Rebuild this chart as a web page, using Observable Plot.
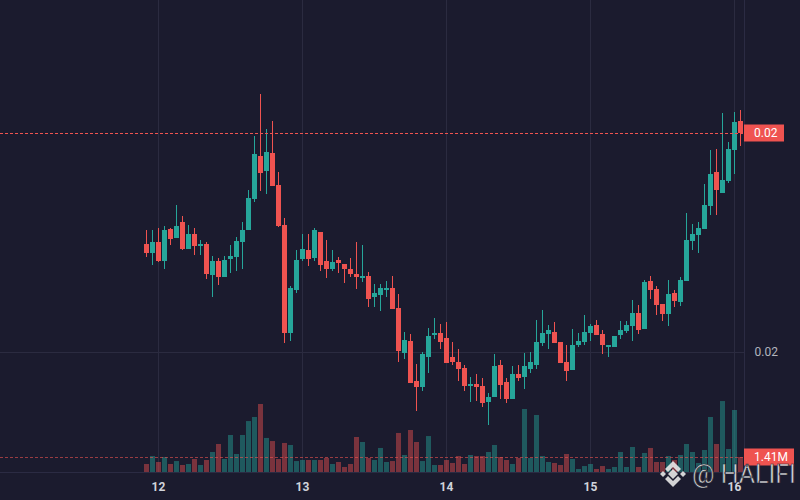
<!DOCTYPE html>
<html><head><meta charset="utf-8">
<script src="https://cdn.jsdelivr.net/npm/d3@7"></script>
<script src="https://cdn.jsdelivr.net/npm/@observablehq/plot@0.6"></script>
<style>
html,body{margin:0;padding:0;background:#1b1b2e;}
#chart{position:relative;width:800px;height:500px;background:#1b1b2e;overflow:hidden;font-family:Roboto,sans-serif;}
#chart svg{position:absolute;left:0;top:0;}
</style></head><body><div id="chart"></div>
<script>
// ---- data (hourly candles, first candle 11th 22:00) ----
const firstCandle = "2024-01-11T22:00Z";
const dayTicks = ["2024-01-12","2024-01-13","2024-01-14","2024-01-15","2024-01-16"];
const open = [0.02108,0.02099,0.02110,0.02091,0.02123,0.02114,0.02130,0.02103,0.02118,0.02106,
0.02108,0.02077,0.02091,0.02075,0.02093,0.02095,0.02110,0.02122,0.02153,0.02196,
0.02181,0.02199,0.02167,0.02127,0.02019,0.02062,0.02093,0.02102,0.02094,0.02120,
0.02091,0.02083,0.02092,0.02088,0.02083,0.02078,0.02074,0.02076,0.02055,0.02057,
0.02062,0.02064,0.02044,0.01999,0.02011,0.01971,0.01965,0.01995,0.02017,0.02019,
0.02014,0.01995,0.01990,0.01984,0.01966,0.01968,0.01966,0.01950,0.01955,0.01987,
0.01970,0.01953,0.01978,0.01975,0.01983,0.01987,0.02009,0.02018,0.02020,0.02010,
0.01990,0.01982,0.02007,0.02010,0.02019,0.02027,0.02018,0.02005,0.02005,0.02017,
0.02021,0.02026,0.02039,0.02023,0.02071,0.02063,0.02048,0.02038,0.02059,0.02050,
0.02071,0.02111,0.02117,0.02123,0.02146,0.02180,0.02159,0.02171,0.02202,0.02231];
const high = [0.02122,0.02122,0.02124,0.02126,0.02124,0.02147,0.02136,0.02127,0.02124,0.02112,
0.02110,0.02096,0.02094,0.02096,0.02107,0.02115,0.02130,0.02162,0.02216,0.02258,
0.02223,0.02231,0.02180,0.02134,0.02066,0.02102,0.02118,0.02118,0.02124,0.02120,
0.02112,0.02102,0.02095,0.02088,0.02094,0.02110,0.02107,0.02080,0.02068,0.02068,
0.02071,0.02076,0.02058,0.02020,0.02018,0.01988,0.02000,0.02024,0.02034,0.02028,
0.02030,0.02010,0.02003,0.01987,0.01975,0.01978,0.01974,0.01959,0.01998,0.01992,
0.01974,0.01986,0.01987,0.01999,0.02000,0.02032,0.02042,0.02027,0.02030,0.02010,
0.02007,0.02023,0.02019,0.02037,0.02028,0.02032,0.02022,0.02007,0.02016,0.02031,
0.02031,0.02052,0.02047,0.02072,0.02076,0.02066,0.02048,0.02072,0.02062,0.02075,
0.02139,0.02128,0.02130,0.02168,0.02202,0.02203,0.02239,0.02210,0.02240,0.02242];
const low = [0.02095,0.02087,0.02090,0.02083,0.02107,0.02114,0.02102,0.02103,0.02097,0.02097,
0.02073,0.02055,0.02067,0.02075,0.02079,0.02081,0.02083,0.02122,0.02150,0.02161,
0.02158,0.02166,0.02125,0.02009,0.02011,0.02059,0.02091,0.02086,0.02091,0.02081,
0.02074,0.02081,0.02079,0.02069,0.02075,0.02063,0.02070,0.02045,0.02045,0.02041,
0.02055,0.02043,0.01990,0.01993,0.01969,0.01941,0.01961,0.01979,0.02013,0.02003,
0.01989,0.01987,0.01971,0.01961,0.01950,0.01951,0.01945,0.01927,0.01955,0.01953,
0.01949,0.01953,0.01971,0.01963,0.01979,0.01983,0.02006,0.02003,0.02009,0.01989,
0.01971,0.01982,0.02005,0.02007,0.02011,0.02017,0.01998,0.01995,0.02005,0.02013,
0.02019,0.02011,0.02018,0.02023,0.02053,0.02037,0.02031,0.02026,0.02045,0.02046,
0.02071,0.02102,0.02099,0.02123,0.02137,0.02137,0.02159,0.02169,0.02178,0.02206];
const close = [0.02099,0.02110,0.02091,0.02122,0.02113,0.02126,0.02103,0.02118,0.02106,0.02108,
0.02078,0.02091,0.02075,0.02092,0.02096,0.02111,0.02122,0.02154,0.02198,0.02179,
0.02200,0.02166,0.02126,0.02019,0.02064,0.02092,0.02103,0.02093,0.02122,0.02087,
0.02083,0.02090,0.02089,0.02083,0.02078,0.02075,0.02076,0.02053,0.02059,0.02064,
0.02064,0.02043,0.02001,0.02012,0.01969,0.01965,0.01998,0.02016,0.02019,0.02010,
0.01989,0.01990,0.01983,0.01966,0.01968,0.01965,0.01949,0.01955,0.01986,0.01967,
0.01953,0.01978,0.01974,0.01986,0.01990,0.02010,0.02019,0.02022,0.02009,0.01989,
0.01981,0.02007,0.02011,0.02020,0.02026,0.02017,0.02007,0.02007,0.02016,0.02022,
0.02027,0.02039,0.02022,0.02070,0.02062,0.02047,0.02038,0.02058,0.02051,0.02072,
0.02112,0.02118,0.02124,0.02147,0.02178,0.02162,0.02172,0.02203,0.02230,0.02219];
// volume in millions
const volume = [0.75,1.50,0.94,1.41,0.75,1.03,0.66,0.75,1.22,0.66,
1.13,1.88,2.63,1.22,3.48,1.69,3.48,4.79,5.17,6.39,
3.20,2.91,1.22,2.73,2.54,1.03,1.13,1.13,1.13,1.13,
1.32,0.75,0.94,0.47,0.75,3.29,2.82,1.32,1.13,2.26,
0.94,1.03,3.67,1.60,3.95,2.82,1.03,3.38,0.66,0.66,
1.13,0.85,1.50,0.75,1.60,1.50,1.50,1.88,2.54,1.41,
1.13,0.75,1.32,5.92,1.32,5.36,1.50,0.94,0.85,0.66,
1.69,1.22,0.28,0.56,0.75,0.28,0.56,0.28,0.47,1.88,
0.47,2.35,0.47,1.79,2.26,0.94,0.94,1.50,1.13,1.60,
2.63,1.88,0.85,2.07,5.17,2.63,6.67,2.16,5.83,1.41];

// ---- build ----
const GREEN = "#26a69a", RED = "#ef5350";
const t0 = new Date(firstCandle);
const candles = open.map((o, i) => ({
  t: d3.utcHour.offset(t0, i), o, h: high[i], l: low[i], c: close[i], v: volume[i], up: close[i] >= o
}));
const ticks = dayTicks.map(d => new Date(d + "T00:00Z"));
const xDomain = [d3.utcMinute.offset(ticks[0], -1580), d3.utcMinute.offset(ticks[0], 5860)];
const last = candles[candles.length - 1];

const W = 800, H = 500, M = {marginLeft: 0, marginRight: 56, marginTop: 0, marginBottom: 28};
const style = {background: "transparent", color: "#d1d4dc", fontFamily: "Roboto, sans-serif", fontSize: "12px", overflow: "visible"};

function label(value, text, fill, w) {
  return (index, scales, values, dims) => {
    const y = scales.y(value);
    const x0 = dims.width - dims.marginRight;
    const g = d3.create("svg:g");
    g.append("rect").attr("x", x0).attr("y", y - 8.5).attr("width", w).attr("height", 17).attr("fill", fill);
    g.append("text").attr("x", x0 + 10).attr("y", y).attr("dy", "0.35em").attr("text-anchor", "start")
      .attr("fill", "#ffffff").attr("font-size", 12).attr("font-family", "Roboto, sans-serif").text(text);
    return g.node();
  };
}

const volPlot = Plot.plot({
  width: W, height: H, ...M, style,
  x: {type: "utc", domain: xDomain, label: null},
  y: {domain: [0, 44.37], axis: null},
  marks: [
    Plot.gridX(ticks, {stroke: "#2b2b40", strokeOpacity: 1}),
    Plot.ruleX([xDomain[1]], {stroke: "#2b2b43"}),
    Plot.ruleY([0], {stroke: "#2b2b43"}),
    Plot.ruleX(candles, {filter: d => d.up, x: "t", y1: 0, y2: "v", stroke: GREEN, strokeOpacity: 0.45, strokeWidth: 5}),
    Plot.ruleX(candles, {filter: d => !d.up, x: "t", y1: 0, y2: "v", stroke: RED, strokeOpacity: 0.45, strokeWidth: 5}),
    Plot.ruleY([last.v], {stroke: RED, strokeOpacity: 0.6, strokeDasharray: "3,2"}),
    Plot.axisX({ticks, label: null, tickFormat: d3.utcFormat("%-d"), tickSize: 0, tickPadding: 10, fontWeight: "bold", fill: "#d1d4dc"}),
    label(last.v, d3.format(".2f")(last.v) + "M", RED, 50)
  ]
});

const pricePlot = Plot.plot({
  width: W, height: H, ...M, style,
  x: {type: "utc", domain: xDomain, axis: null},
  y: {domain: [0.01880, 0.02352], label: null},
  marks: [
    Plot.gridY([0.02], {stroke: "#2b2b40", strokeOpacity: 1}),
    Plot.axisY([0.02], {anchor: "right", label: null, tickSize: 0, tickPadding: 10, tickFormat: d3.format(".2f"), fill: "#b2b5be"}),
    Plot.ruleX(candles, {filter: d => d.up, x: "t", y1: "l", y2: "h", stroke: GREEN, strokeWidth: 1}),
    Plot.ruleX(candles, {filter: d => !d.up, x: "t", y1: "l", y2: "h", stroke: RED, strokeWidth: 1}),
    Plot.ruleX(candles, {filter: d => d.up, x: "t", y1: "o", y2: "c", stroke: GREEN, strokeWidth: 5}),
    Plot.ruleX(candles, {filter: d => !d.up, x: "t", y1: "o", y2: "c", stroke: RED, strokeWidth: 5}),
    Plot.ruleY([last.c], {stroke: RED, strokeDasharray: "3,2"}),
    label(last.c, d3.format(".2f")(last.c), RED, 40)
  ]
});

const chart = document.getElementById("chart");
chart.append(volPlot);
chart.append(pricePlot);

// watermark
const wm = d3.create("svg").attr("width", W).attr("height", H).attr("viewBox", `0 0 ${W} ${H}`);
const g = wm.append("g").attr("fill", "#e8e8e8").attr("opacity", 0.9);
[[[673,469],[678,474],[673,479],[668,474]],
 [[660,474],[663,471],[666,474],[663,477]],
 [[680,474],[683,471],[686,474],[683,477]],
 [[673,461],[681,469],[678,472],[673,467],[668,472],[665,469]],
 [[673,487],[681,479],[678,476],[673,481],[668,476],[665,479]]
].forEach(p => g.append("polygon").attr("points", p.map(q => q.join(",")).join(" ")));
g.append("text").attr("x", 692).attr("y", 483).attr("font-size", 25).attr("font-family", "Roboto, sans-serif")
  .attr("stroke", "#1b1b2e").attr("stroke-width", 0.6).text("@ HALIFI");
chart.append(wm.node());
</script>
</body></html>
